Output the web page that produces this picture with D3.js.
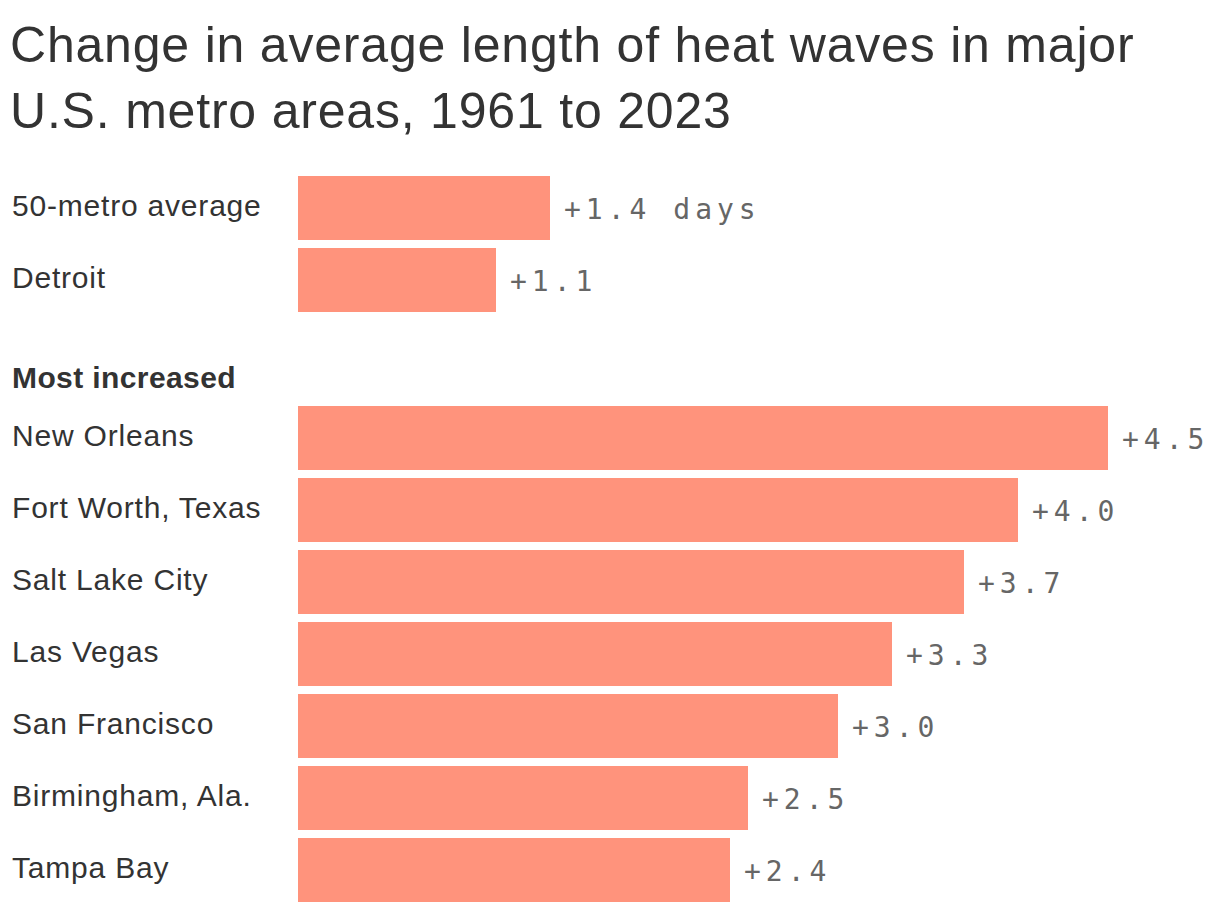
<!DOCTYPE html>
<html>
<head>
<meta charset="utf-8">
<script src="https://cdn.jsdelivr.net/npm/d3@7"></script>
<style>
  body { margin: 0; background: #fff; }
  .title { font-family: "Liberation Sans", Arial, sans-serif; font-size: 50px; fill: #333; letter-spacing: 0.8px; }
  .label { font-family: "Liberation Sans", Arial, sans-serif; font-size: 30px; fill: #333; letter-spacing: 0.8px; }
  .head { font-family: "Liberation Sans", Arial, sans-serif; font-size: 30px; font-weight: bold; fill: #333; letter-spacing: 0.4px; }
  .value { font-family: "DejaVu Sans Mono", monospace; font-size: 28px; fill: #666; letter-spacing: 5px; }
</style>
</head>
<body>
<svg id="chart"></svg>
<script>
const titleLines = ['Change in average length of heat waves in major', 'U.S. metro areas, 1961 to 2023'];
const topNames = ['50-metro average', 'Detroit'];
const topValues = [1.4, 1.1];
const groupTitle = 'Most increased';
const increasedNames = ['New Orleans', 'Fort Worth, Texas', 'Salt Lake City', 'Las Vegas', 'San Francisco', 'Birmingham, Ala.', 'Tampa Bay'];
const increasedValues = [4.5, 4.0, 3.7, 3.3, 3.0, 2.5, 2.4];
const unit = ' days';

const width = 1220;
const height = 912;
const barLeft = 298;

const svg = d3.select('#chart').attr('width', width).attr('height', height);

svg.selectAll('.title')
  .data(titleLines)
  .enter()
  .append('text')
  .attr('class', 'title')
  .attr('x', 10)
  .attr('y', (d, i) => 62 + i * 66)
  .text(d => d);

const x = d3.scaleLinear().domain([0, 4.5]).range([0, 810]);
const fmt = d3.format('.1f');

function drawGroup(names, values, y0, y1, firstUnit) {
  const rows = names.map((n, i) => ({ name: n, value: values[i], i }));
  const y = d3.scaleBand().domain(names).range([y0, y1]).paddingInner(8 / 72).paddingOuter(4 / 72);
  const g = svg.append('g');

  g.selectAll('rect')
    .data(rows)
    .enter()
    .append('rect')
    .attr('x', barLeft)
    .attr('y', d => y(d.name))
    .attr('width', d => x(d.value))
    .attr('height', y.bandwidth())
    .attr('fill', '#ff937c');

  g.selectAll('.label')
    .data(rows)
    .enter()
    .append('text')
    .attr('class', 'label')
    .attr('x', 12)
    .attr('y', d => y(d.name) + y.bandwidth() / 2 + 8)
    .text(d => d.name);

  g.selectAll('.value')
    .data(rows)
    .enter()
    .append('text')
    .attr('class', 'value')
    .attr('x', d => barLeft + x(d.value) + 14)
    .attr('y', d => y(d.name) + y.bandwidth() / 2 + 11)
    .text(d => '+' + fmt(d.value) + (firstUnit && d.i === 0 ? unit : ''));
}

drawGroup(topNames, topValues, 172, 316, true);

svg.append('text')
  .attr('class', 'head')
  .attr('x', 12)
  .attr('y', 388)
  .text(groupTitle);

drawGroup(increasedNames, increasedValues, 402, 906, false);
</script>
</body>
</html>
